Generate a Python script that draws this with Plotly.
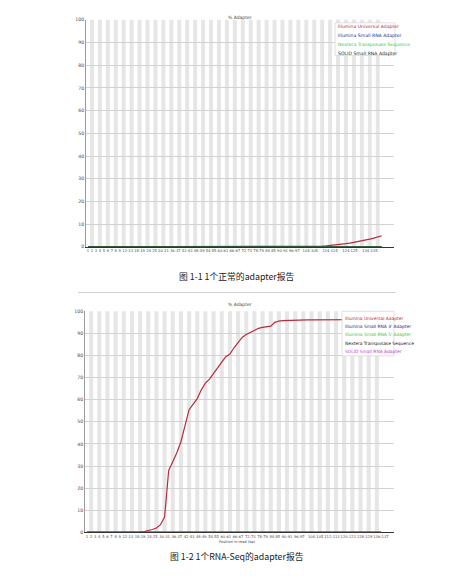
import plotly.graph_objects as go

W, H = 474, 579

# ---- chart 1 : normal adapter report ----
cats_1 = [str(i) for i in range(1, 10)] + [f"{a}-{a + 1}" for a in range(10, 142, 2)]
labels_1 = ["1", "2", "3", "4", "5", "6", "7", "8", "9", "12-13", "18-19", "24-25", "30-31",
            "36-37", "42-43", "48-49", "54-55", "60-61", "66-67", "72-73", "78-79", "84-85",
            "90-91", "96-97", "104-105", "114-115", "124-125", "134-135"]
names_1 = ["Illumina Universal Adapter", "Illumina Small RNA Adapter",
           "Nextera Transposase Sequence", "SOLID Small RNA Adapter"]
universal_1 = [0, 0, 0, 0, 0, 0, 0, 0, 0, 0, 0, 0, 0, 0, 0, 0, 0, 0, 0, 0, 0, 0, 0, 0, 0,
               0, 0, 0, 0, 0, 0, 0, 0, 0, 0, 0, 0, 0, 0, 0, 0, 0, 0, 0, 0, 0, 0, 0, 0, 0,
               0, 0, 0, 0, 0.02, 0.04, 0.08, 0.13, 0.2, 0.3, 0.4, 0.55, 0.75, 0.95, 1.15,
               1.4, 1.65, 1.95, 2.25, 2.6, 3.0, 3.4, 3.85, 4.35, 4.9]
small_rna_1 = [0, 0, 0, 0, 0, 0, 0, 0, 0, 0, 0, 0, 0, 0, 0, 0, 0, 0, 0, 0, 0, 0, 0, 0, 0,
               0, 0, 0, 0, 0, 0, 0, 0, 0, 0, 0, 0, 0, 0, 0, 0, 0, 0, 0, 0, 0, 0, 0, 0, 0,
               0, 0, 0, 0, 0, 0, 0, 0, 0, 0, 0, 0, 0, 0, 0, 0, 0, 0, 0, 0, 0, 0, 0, 0, 0]
nextera_1 = [0, 0, 0, 0, 0, 0, 0, 0, 0, 0, 0, 0, 0, 0, 0, 0, 0, 0, 0, 0, 0, 0, 0, 0, 0,
             0, 0, 0, 0, 0, 0, 0, 0, 0, 0, 0, 0, 0, 0, 0, 0, 0, 0, 0, 0, 0, 0, 0, 0, 0,
             0, 0, 0, 0, 0, 0, 0, 0, 0, 0, 0, 0, 0, 0, 0, 0, 0, 0, 0, 0, 0, 0, 0, 0, 0]
solid_1 = [0, 0, 0, 0, 0, 0, 0, 0, 0, 0, 0, 0, 0, 0, 0, 0, 0, 0, 0, 0, 0, 0, 0, 0, 0,
           0, 0, 0, 0, 0, 0, 0, 0, 0, 0, 0, 0, 0, 0, 0, 0, 0, 0, 0, 0, 0, 0, 0, 0, 0,
           0, 0, 0, 0, 0, 0, 0, 0, 0, 0, 0, 0, 0, 0, 0, 0, 0, 0, 0, 0, 0, 0, 0, 0, 0]

# ---- chart 2 : RNA-Seq adapter report ----
cats_2 = [str(i) for i in range(1, 10)] + [f"{a}-{a + 1}" for a in range(10, 138, 2)]
labels_2 = ["1", "2", "3", "4", "5", "6", "7", "8", "9", "12-13", "18-19", "24-25", "30-31",
            "36-37", "42-43", "48-49", "54-55", "60-61", "66-67", "72-73", "78-79", "84-85",
            "90-91", "96-97", "104-105", "112-113", "120-121", "128-129", "136-137"]
names_2 = ["Illumina Universal Adapter", "Illumina Small RNA 3' Adapter",
           "Illumina Small RNA 5' Adapter", "Nextera Transposase Sequence",
           "SOLID Small RNA Adapter"]
universal_2 = [0, 0, 0, 0, 0, 0, 0, 0, 0, 0, 0, 0, 0.05, 0.1, 0.4, 0.8, 1.3, 2.0, 3.5, 7.0,
               28.0, 32.0, 36.0, 41.0, 49.0, 55.5, 58.0, 60.5, 64.5, 67.5, 69.3, 72.0, 74.5,
               77.0, 79.5, 80.7, 83.5, 85.8, 88.2, 89.5, 90.5, 91.4, 92.3, 92.7, 93.0, 93.3,
               95.0, 95.6, 95.8, 95.9, 96.0, 96.0, 96.0, 96.1, 96.1, 96.1, 96.1, 96.2, 96.2,
               96.2, 96.2, 96.2, 96.3, 96.3, 96.3, 96.3, 96.3, 96.3, 96.3, 96.3, 96.3, 96.3, 96.3]
small_rna3_2 = [0, 0, 0, 0, 0, 0, 0, 0, 0, 0, 0, 0, 0, 0, 0, 0, 0, 0, 0, 0, 0, 0, 0, 0, 0,
                0, 0, 0, 0, 0, 0, 0, 0, 0, 0, 0, 0, 0, 0, 0, 0, 0, 0, 0, 0, 0, 0, 0, 0, 0,
                0, 0, 0, 0, 0, 0, 0, 0, 0, 0, 0, 0, 0, 0, 0, 0, 0, 0, 0, 0, 0, 0, 0]
small_rna5_2 = [0, 0, 0, 0, 0, 0, 0, 0, 0, 0, 0, 0, 0, 0, 0, 0, 0, 0, 0, 0, 0, 0, 0, 0, 0,
                0, 0, 0, 0, 0, 0, 0, 0, 0, 0, 0, 0, 0, 0, 0, 0, 0, 0, 0, 0, 0, 0, 0, 0, 0,
                0, 0, 0, 0, 0, 0, 0, 0, 0, 0, 0, 0, 0, 0, 0, 0, 0, 0, 0, 0, 0, 0, 0]
nextera_2 = [0, 0, 0, 0, 0, 0, 0, 0, 0, 0, 0, 0, 0, 0, 0, 0, 0, 0, 0, 0, 0, 0, 0, 0, 0,
             0, 0, 0, 0, 0, 0, 0, 0, 0, 0, 0, 0, 0, 0, 0, 0, 0, 0, 0, 0, 0, 0, 0, 0, 0,
             0, 0, 0, 0, 0, 0, 0, 0, 0, 0, 0, 0, 0, 0, 0, 0, 0, 0, 0, 0, 0, 0, 0]
solid_2 = [0, 0, 0, 0, 0, 0, 0, 0, 0, 0, 0, 0, 0, 0, 0, 0, 0, 0, 0, 0, 0, 0, 0, 0, 0,
           0, 0, 0, 0, 0, 0, 0, 0, 0, 0, 0, 0, 0, 0, 0, 0, 0, 0, 0, 0, 0, 0, 0, 0, 0,
           0, 0, 0, 0, 0, 0, 0, 0, 0, 0, 0, 0, 0, 0, 0, 0, 0, 0, 0, 0, 0, 0, 0]

colors_1 = ["#b82a3e", "#1f2a8c", "#3cc83c", "#1e2a1e"]
colors_2 = ["#b82a3e", "#1f2a8c", "#3cc83c", "#222222", "#c23cc8"]


def fx(v):  # pixel -> paper x
    return v / W


def fy(v):  # pixel -> paper y
    return 1 - v / H


fig = go.Figure()

for name, vals, col in zip(names_1, [universal_1, small_rna_1, nextera_1, solid_1], colors_1):
    fig.add_trace(go.Scatter(x=cats_1, y=vals, name=name, mode="lines",
                             line=dict(color=col, width=1.2), xaxis="x", yaxis="y",
                             showlegend=False))
for name, vals, col in zip(names_2, [universal_2, small_rna3_2, small_rna5_2, nextera_2, solid_2], colors_2):
    fig.add_trace(go.Scatter(x=cats_2, y=vals, name=name, mode="lines",
                             line=dict(color=col, width=1.2), xaxis="x2", yaxis="y2",
                             showlegend=False))

# alternating grey columns behind each position group
shapes = []
for i in range(len(cats_1)):
    if i % 2 == 1:
        shapes.append(dict(type="rect", xref="x", yref="y domain", x0=i - 0.5, x1=i + 0.5,
                           y0=0, y1=1, fillcolor="#e6e6e6", line_width=0, layer="below"))
for i in range(len(cats_2)):
    if i % 2 == 1:
        shapes.append(dict(type="rect", xref="x2", yref="y2 domain", x0=i - 0.5, x1=i + 0.5,
                           y0=0, y1=1, fillcolor="#e6e6e6", line_width=0, layer="below"))

# legend boxes
shapes.append(dict(type="rect", xref="paper", yref="paper", x0=fx(335), x1=fx(395),
                   y0=fy(54), y1=fy(21), fillcolor="white", line=dict(color="#d8d8d8", width=0.8)))
shapes.append(dict(type="rect", xref="paper", yref="paper", x0=fx(342), x1=fx(394),
                   y0=fy(357), y1=fy(312), fillcolor="white", line=dict(color="#d8d8d8", width=0.8)))
# separator between the two figures
shapes.append(dict(type="line", xref="paper", yref="paper", x0=fx(78), x1=fx(396),
                   y0=fy(293), y1=fy(293), line=dict(color="#cfcfcf", width=1)))

small = dict(family="DejaVu Sans", size=4.5, color="#444444")
ann = []
for k, (name, col) in enumerate(zip(names_1, colors_1)):
    ann.append(dict(xref="paper", yref="paper", x=fx(336), y=fy(24.5 + 9 * k), text=name,
                    showarrow=False, xanchor="left", yanchor="middle",
                    font=dict(family="DejaVu Sans", size=4.6, color=col)))
for k, (name, col) in enumerate(zip(names_2, colors_2)):
    ann.append(dict(xref="paper", yref="paper", x=fx(343), y=fy(319 + 8.35 * k), text=name,
                    showarrow=False, xanchor="left", yanchor="middle",
                    font=dict(family="DejaVu Sans", size=4.4, color=col)))
ann.append(dict(xref="paper", yref="paper", x=fx(240), y=fy(11), text="% Adapter",
                showarrow=False, font=small))
ann.append(dict(xref="paper", yref="paper", x=fx(240), y=fy(305), text="% Adapter",
                showarrow=False, font=small))
ann.append(dict(xref="paper", yref="paper", x=fx(237), y=fy(548.5), text="Position in read (bp)",
                showarrow=False, font=dict(family="DejaVu Sans", size=3.6, color="#444444")))
cap_font = dict(family="Noto Sans CJK SC", size=8.8, color="#222222")
ann.append(dict(xref="paper", yref="paper", x=fx(237), y=fy(277), text="图 1-1 1个正常的adapter报告",
                showarrow=False, font=cap_font))
ann.append(dict(xref="paper", yref="paper", x=fx(237), y=fy(568), text="图 1-2 1个RNA-Seq的adapter报告",
                showarrow=False, font=cap_font))

xcommon = dict(type="category", showgrid=False, zeroline=False, ticks="", showline=True,
               linecolor="#333333", linewidth=1, tickfont=dict(family="DejaVu Sans", size=3.7, color="#444444"),
               tickangle=0, ticklabelstandoff=0)
ycommon = dict(range=[0, 100], dtick=10, showgrid=True, gridcolor="#d2d2d2", gridwidth=1,
               zeroline=False, showline=True, linecolor="#9a9a9a", linewidth=1, ticks="",
               tickfont=dict(family="DejaVu Sans", size=4.6, color="#444444"))

fig.update_layout(
    width=W, height=H,
    margin=dict(l=0, r=0, t=0, b=0),
    paper_bgcolor="white", plot_bgcolor="white",
    xaxis=dict(xcommon, domain=[fx(86), fx(394)], range=[-0.5, 77.1], anchor="y",
               tickvals=labels_1, ticktext=labels_1),
    yaxis=dict(ycommon, domain=[fy(247), fy(18)], anchor="x"),
    xaxis2=dict(xcommon, domain=[fx(85), fx(394)], range=[-0.5, 75.2], anchor="y2",
                tickvals=labels_2, ticktext=labels_2),
    yaxis2=dict(ycommon, domain=[fy(535), fy(312)], anchor="x2"),
    shapes=shapes,
    annotations=ann,
)

fig.write_html("out.html", config={"displayModeBar": False},
               post_script="document.body.style.margin = '0';")
